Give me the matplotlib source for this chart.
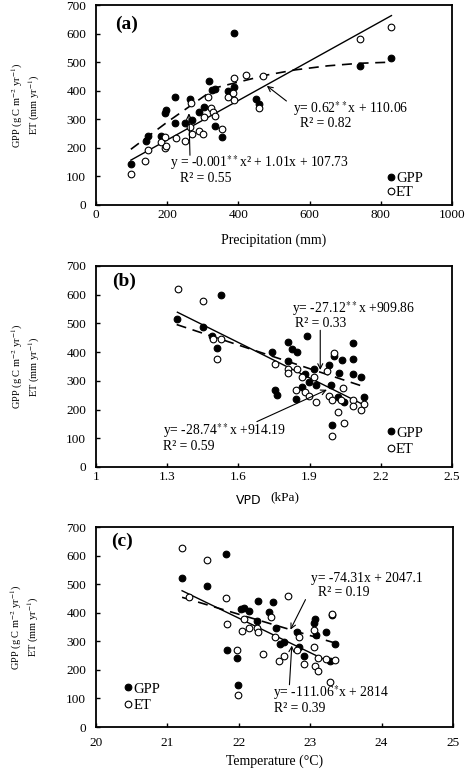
import numpy as np
import matplotlib
matplotlib.use("Agg")
import matplotlib.pyplot as plt

plt.rcParams["font.family"] = ["Liberation Serif", "DejaVu Serif"]
plt.rcParams["mathtext.fontset"] = "stix"

#%% Datos
# (a) Precipitacion
precip_gpp_x = [98, 140, 147, 184, 195, 196, 222, 223, 250, 264, 269, 290, 303, 317, 327,
                335, 335, 354, 371, 388, 388, 449, 459, 742, 830]
precip_gpp_y = [145, 225, 240, 241, 323, 333, 378, 286, 286, 371, 298, 324, 342, 434, 403,
                407, 277, 237, 400, 601, 412, 370, 355, 488, 516]
precip_et_x = [98, 139, 147, 184, 194, 194, 196, 224, 249, 265, 268, 269, 290, 301, 303,
               316, 324, 329, 335, 353, 372, 384, 388, 388, 422, 468, 459, 742, 829]
precip_et_y = [107, 153, 191, 219, 237, 200, 208, 233, 225, 273, 356, 249, 260, 249, 309,
               379, 338, 326, 310, 265, 379, 393, 446, 368, 455, 452, 341, 580, 622]
precip_lin_x = [98, 830]
precip_lin_y = [157, 663]
precip_quad_x = [98, 200, 338, 480, 560, 650, 740, 830]
precip_quad_y = [195, 290, 411, 455, 473, 487, 496, 500]

# (b) VPD
vpd_gpp_x = [1.343, 1.453, 1.489, 1.512, 1.526, 1.741, 1.755, 1.762, 1.811, 1.808, 1.828,
             1.849, 1.841, 1.870, 1.881, 1.891, 1.896, 1.917, 1.928, 1.981, 1.990, 1.994,
             2.004, 2.026, 2.018, 2.038, 2.043, 2.085, 2.085, 2.085, 2.118, 2.128]
vpd_gpp_y = [517, 489, 457, 415, 600, 399, 269, 251, 437, 368, 410, 402, 238, 279, 324, 457,
             295, 342, 287, 355, 286, 147, 388, 329, 242, 371, 226, 433, 377, 323, 315, 243]
vpd_et_x = [1.347, 1.453, 1.492, 1.526, 1.512, 1.755, 1.808, 1.811, 1.849, 1.842, 1.879,
            1.896, 1.870, 1.917, 1.927, 1.973, 1.980, 1.994, 2.001, 1.995, 2.019, 2.040,
            2.043, 2.033, 2.085, 2.085, 2.118, 2.128]
vpd_et_y = [621, 579, 447, 447, 375, 358, 341, 327, 341, 267, 261, 248, 315, 313, 226, 336,
            247, 234, 396, 109, 192, 275, 154, 234, 234, 211, 197, 219]
vpd_gpp_fit_x = [1.343, 2.12]
vpd_gpp_fit_y = [539, 220]
vpd_et_fit_x = [1.34, 2.128]
vpd_et_fit_y = [496, 280]

# (c) Temperatura
temp_gpp_x = [21.206, 21.556, 21.822, 21.832, 21.977, 21.995, 22.033, 22.079, 22.150,
              22.252, 22.276, 22.430, 22.477, 22.523, 22.579, 22.640, 22.818, 22.850,
              22.921, 23.051, 23.075, 23.084, 23.224, 23.280, 23.308, 23.350]
temp_gpp_y = [520, 492, 604, 271, 243, 147, 413, 418, 405, 372, 440, 403, 436, 347, 291,
              298, 331, 280, 247, 364, 378, 323, 331, 230, 391, 291]
temp_et_x = [21.206, 21.556, 21.308, 21.822, 21.832, 21.972, 21.995, 22.042, 22.079,
             22.150, 22.252, 22.276, 22.336, 22.453, 22.509, 22.570, 22.640, 22.696,
             22.813, 22.850, 22.921, 23.051, 23.051, 23.075, 23.107, 23.107, 23.224,
             23.280, 23.308, 23.350]
temp_et_y = [625, 583, 454, 450, 361, 268, 111, 335, 378, 347, 347, 333, 254, 385, 315,
             230, 250, 460, 268, 315, 222, 279, 338, 212, 195, 242, 238, 156, 396, 236]
temp_gpp_fit_x = [21.206, 23.35]
temp_gpp_fit_y = [454, 294]
temp_et_fit_x = [21.206, 23.318]
temp_et_fit_y = [477, 222]

ylabel_1 = r"GPP (g C m$^{-2}$ yr$^{-1}$)"
ylabel_2 = r"ET (mm yr$^{-1}$)"

#%% Figura
fig = plt.figure(figsize=(4.74, 7.83), dpi=100)
ax1 = fig.add_axes([0.2025, 0.7382, 0.751, 0.2554])
ax2 = fig.add_axes([0.2025, 0.4036, 0.751, 0.2567])
ax3 = fig.add_axes([0.2025, 0.0715, 0.753, 0.2554])

fs = 9.5     # ticks
fa = 9.8     # anotaciones
for ax in (ax1, ax2, ax3):
    ax.set_ylim(0, 700)
    ax.set_yticks(range(0, 701, 100))
    for s in ax.spines.values():
        s.set_linewidth(1.3)
    ax.tick_params(direction="in", length=3, width=1, labelsize=fs, pad=7)
    ax.tick_params(axis="x", pad=3)
    ax.text(-0.222, 0.5, ylabel_1, transform=ax.transAxes, rotation=90,
            ha="center", va="center", fontsize=7.5)
    ax.text(-0.174, 0.5, ylabel_2, transform=ax.transAxes, rotation=90,
            ha="center", va="center", fontsize=7.5)

def puntos(ax, gx, gy, ex, ey):
    ax.plot(gx, gy, "o", ms=4.8, mfc="black", mec="black", mew=0.8, label="GPP")
    ax.plot(ex, ey, "o", ms=4.8, mfc="white", mec="black", mew=0.8, label="ET")

def leyenda(ax, anchor, sp):
    ax.legend(loc="lower left", bbox_to_anchor=anchor, frameon=False, fontsize=10.5,
              handlelength=0.5, handletextpad=0.1, labelspacing=sp,
              borderpad=0, borderaxespad=0)

def flecha(ax, tail, head):
    ax.annotate("", xy=head, xytext=tail,
                arrowprops=dict(arrowstyle="->", lw=0.8, color="black",
                                shrinkA=0, shrinkB=0, mutation_scale=9))

# (a)
ax1.set_xlim(0, 1000)
ax1.set_xticks(range(0, 1001, 200))
ax1.plot(precip_lin_x, precip_lin_y, "-", color="black", lw=1)
ax1.plot(precip_quad_x, precip_quad_y, "--", color="black", lw=1.2, dashes=(6, 4))
puntos(ax1, precip_gpp_x, precip_gpp_y, precip_et_x, precip_et_y)
ax1.text(553, 339, r"y= 0.62$^{**}$x + 110.06", fontsize=fa, va="center")
ax1.text(572, 284, "R² = 0.82", fontsize=fa, va="center")
ax1.text(207, 147, r"y = -0.001$^{**}$x² + 1.01x + 107.73", fontsize=fa, va="center")
ax1.text(237, 94, "R² = 0.55", fontsize=fa, va="center")
flecha(ax1, (535, 364), (480, 417))
flecha(ax1, (264, 174), (261, 321))
ax1.text(53, 634, "(a)", fontsize=14, fontweight="bold", va="center")
ax1.set_xlabel("Precipitation (mm)", fontsize=10, labelpad=9)
leyenda(ax1, (0.818, 0.03), 0.05)

# (b)
ax2.set_xlim(1, 2.5)
ax2.set_xticks([1, 1.3, 1.6, 1.9, 2.2, 2.5])
ax2.set_xticklabels(["1", "1.3", "1.6", "1.9", "2.2", "2.5"])
ax2.plot(vpd_gpp_fit_x, vpd_gpp_fit_y, "-", color="black", lw=1)
ax2.plot(vpd_et_fit_x, vpd_et_fit_y, "--", color="black", lw=1.2, dashes=(6, 4))
puntos(ax2, vpd_gpp_x, vpd_gpp_y, vpd_et_x, vpd_et_y)
ax2.text(1.828, 553, r"y= -27.12$^{**}$x +909.86", fontsize=fa, va="center")
ax2.text(1.839, 499, "R² = 0.33", fontsize=fa, va="center")
ax2.text(1.284, 127, r"y= -28.74$^{**}$x +914.19", fontsize=fa, va="center")
ax2.text(1.284, 73, "R² = 0.59", fontsize=fa, va="center")
flecha(ax2, (1.945, 476), (1.945, 338))
flecha(ax2, (1.678, 158), (1.973, 269))
ax2.text(1.066, 645, "(b)", fontsize=14, fontweight="bold", va="center")
ax2.text(0.428, -0.165, "VPD", transform=ax2.transAxes, family="DejaVu Sans",
         fontsize=9, ha="center", va="center")
ax2.text(0.53, -0.15, "(kPa)", transform=ax2.transAxes, fontsize=9.5,
         ha="center", va="center")
leyenda(ax2, (0.818, 0.055), 0.22)

# (c)
ax3.set_xlim(20, 25)
ax3.set_xticks(range(20, 26))
ax3.tick_params(axis="x", pad=7)
ax3.plot(temp_gpp_fit_x, temp_gpp_fit_y, "--", color="black", lw=1.2, dashes=(6, 4))
ax3.plot(temp_et_fit_x, temp_et_fit_y, "-", color="black", lw=1)
puntos(ax3, temp_gpp_x, temp_gpp_y, temp_et_x, temp_et_y)
ax3.text(23.014, 520, "y= -74.31x + 2047.1", fontsize=fa, va="center")
ax3.text(23.107, 471, "R² = 0.19", fontsize=fa, va="center")
ax3.text(22.477, 119, r"y= -111.06$^{*}$x + 2814", fontsize=fa, va="center")
ax3.text(22.5, 64, "R² = 0.39", fontsize=fa, va="center")
flecha(ax3, (22.935, 446), (22.724, 341))
flecha(ax3, (22.71, 148), (22.743, 285))
ax3.text(20.21, 650, "(c)", fontsize=14, fontweight="bold", va="center")
ax3.set_xlabel("Temperature (°C)", fontsize=10, labelpad=4)
leyenda(ax3, (0.08, 0.075), 0.22)

fig.savefig("out.png", dpi=100)
